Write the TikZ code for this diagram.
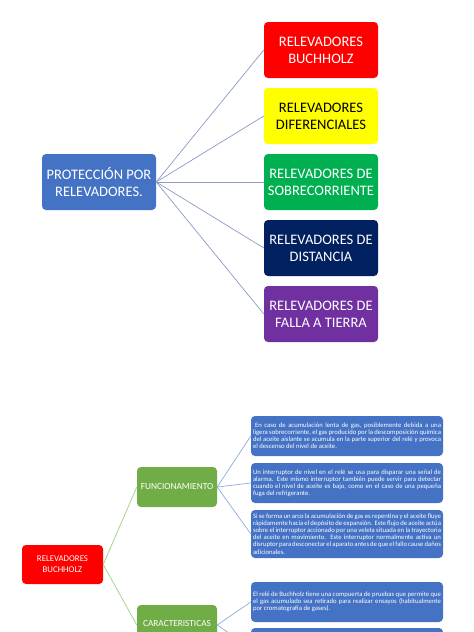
\documentclass[tikz,border=0pt]{standalone}
\usepackage{fontspec}
\setmainfont{Carlito}
\hyphenpenalty=10000
\exhyphenpenalty=10000
\definecolor{cblue}{HTML}{4472C4}
\definecolor{cred}{HTML}{FF0000}
\definecolor{cyel}{HTML}{FFFF00}
\definecolor{cgreen}{HTML}{00B050}
\definecolor{cnavy}{HTML}{002060}
\definecolor{cpurple}{HTML}{7030A0}
\definecolor{cgreen2}{HTML}{70AD47}
\definecolor{linetop}{HTML}{8A9AC4}
\definecolor{linegreen}{HTML}{A9D18E}
\definecolor{lineblue}{HTML}{8FAADC}
\tikzset{
  box/.style={rectangle, rounded corners=4pt, draw=none, align=center, text=white, inner sep=1pt},
  bigbox/.style={box, minimum width=114pt, minimum height=56pt, font=\fontsize{14.5}{17}\selectfont},
  midbox/.style={box, minimum width=80pt, minimum height=40pt, font=\fontsize{9.3}{11}\selectfont},
  txtbox/.style={box, fill=cblue, text width=188pt, align=justify, inner xsep=2pt, inner ysep=2pt, font=\fontsize{6.7}{7.1}\selectfont, anchor=center},
  topline/.style={draw=linetop, line width=0.7pt},
  gline/.style={draw=linegreen, line width=0.8pt},
  bline/.style={draw=lineblue, line width=0.7pt}
}
\begin{document}
\begin{tikzpicture}[x=1pt,y=-1pt]
\useasboundingbox (0,0) rectangle (474,632);
\clip (0,0) rectangle (474,632);
% top section
\node[bigbox, fill=cblue] (p) at (99,182) {PROTECCIÓN POR\\RELEVADORES.};
\node[bigbox, fill=cred] (r1) at (321,50) {RELEVADORES\\BUCHHOLZ};
\node[bigbox, fill=cyel, text=black] (r2) at (321,116) {RELEVADORES\\DIFERENCIALES};
\node[bigbox, fill=cgreen] (r3) at (321,182) {RELEVADORES DE\\SOBRECORRIENTE};
\node[bigbox, fill=cnavy] (r4) at (321,248) {RELEVADORES DE\\DISTANCIA};
\node[bigbox, fill=cpurple] (r5) at (321,314) {RELEVADORES DE\\FALLA A TIERRA};
\foreach \t in {r1,r2,r3,r4,r5} \draw[topline] (p.east) -- (\t.west);
% bottom section
\node[box, fill=cred, minimum width=81pt, minimum height=39pt, font=\fontsize{8.8}{11}\selectfont] (b) at (62.5,564.5) {RELEVADORES\\BUCHHOLZ};
\node[midbox, fill=cgreen2] (f) at (177,487) {FUNCIONAMIENTO};
\node[midbox, fill=cgreen2] (c) at (177,625) {};
\node[font=\fontsize{9.3}{11}\selectfont, text=white, inner sep=0pt] (ct) at (177,624) {CARACTERISTICAS};
\node[txtbox, minimum height=40pt] (t1) at (347,436) {\hspace*{2pt}En caso de acumulación lenta de gas, posiblemente debida a una ligera sobrecorriente, el gas producido por la descomposición química del aceite aislante se acumula en la parte superior del relé y provoca el descenso del nivel de aceite.};
\node[txtbox, minimum height=40pt] (t2) at (347,483) {Un interruptor de nivel en el relé se usa para disparar una señal de alarma. Este mismo interruptor también puede servir para detectar cuando el nivel de aceite es bajo, como en el caso de una pequeña fuga del refrigerante.};
\node[txtbox, minimum height=48pt] (t3) at (347,534) {Si se forma un arco la acumulación de gas es repentina y el aceite fluye rápidamente hacia el depósito de expansión. Este flujo de aceite actúa sobre el interruptor accionado por una veleta situada en la trayectoria del aceite en movimiento. Este interruptor normalmente activa un disruptor para desconectar el aparato antes de que el fallo cause daños adicionales.};
\node[txtbox, minimum height=40pt] (t4) at (347,602) {El relé de Buchholz tiene una compuerta de pruebas que permite que el gas acumulado sea retirado para realizar ensayos (habitualmente por cromatografía de gases).};
\node[txtbox, minimum height=40pt] (t5) at (347,648) {};
\draw[gline] (b.east) -- (f.west);
\draw[gline] (b.east) -- (c.west);
\foreach \t in {t1,t2,t3} \draw[bline] (f.east) -- (\t.west);
\foreach \t in {t4,t5} \draw[bline] (c.east) -- (\t.west);
\end{tikzpicture}
\end{document}
